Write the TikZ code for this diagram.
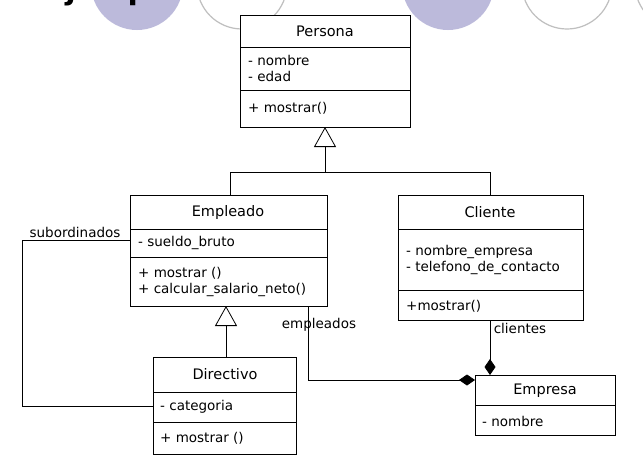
\documentclass[tikz,border=0pt]{standalone}
\usepackage{fontspec}
\setmainfont{DejaVu Sans}
\usetikzlibrary{arrows.meta}
\definecolor{lav}{HTML}{BCBADB}
\begin{document}
\begin{tikzpicture}[x=1pt,y=-1pt,
  box/.style={draw,line width=0.9pt,fill=white},
  txt/.style={font=\fontsize{13.5}{16}\selectfont,anchor=west,inner sep=0pt,align=left},
  ttl/.style={font=\fontsize{14.5}{17}\selectfont,inner sep=0pt},
  lbl/.style={font=\fontsize{13.5}{16}\selectfont,inner sep=0pt},
  ln/.style={line width=0.8pt},
  inh/.style={-{Triangle[open,length=20pt,width=22pt]},line width=0.8pt},
  comp/.style={-{Diamond[length=16pt,width=11pt]},line width=0.8pt},
  deco/.style={fill=lav},
  decoo/.style={draw=black!25,line width=1.2pt,fill=white}]
\useasboundingbox (0,0) rectangle (643,464);
\fill[white] (0,0) rectangle (643,464);
% background decoration
\fill[deco] (137,-16) circle (46);
\draw[decoo] (242,-16) circle (45);
\fill[deco] (448,-16) circle (46);
\draw[decoo] (567,-16) circle (45);
\draw[decoo] (680,-16) circle (45);
\node[font=\bfseries\fontsize{30}{30}\selectfont,anchor=base west,inner sep=0pt] (title) at (45,-1) {Ejemplo};
% Persona
\draw[box] (240,15) rectangle (410,127);
\draw[ln] (240,47)--(410,47) (240,90)--(410,90);
\node[ttl] (persona) at (325,31) {Persona};
\node[txt] (pa) at (248,68) {- nombre\\- edad};
\node[txt] (pm) at (248,108) {+ mostrar()};
\coordinate (pbot) at (325,127);
% Empleado
\draw[box] (130,195) rectangle (327,306);
\draw[ln] (130,229)--(327,229) (130,257)--(327,257);
\node[ttl] (empleado) at (228,212) {Empleado};
\node[txt] (ea) at (138,243) {- sueldo\_bruto};
\node[txt] (em) at (138,282) {+ mostrar ()\\+ calcular\_salario\_neto()};
% Cliente
\draw[box] (398,195) rectangle (583,320);
\draw[ln] (398,229)--(583,229) (398,290)--(583,290);
\node[ttl] (cliente) at (490,212) {Cliente};
\node[txt] (ca) at (406,260) {- nombre\_empresa\\- telefono\_de\_contacto};
\node[txt] (cm) at (406,306) {+mostrar()};
% Directivo
\draw[box] (153,357) rectangle (296,454);
\draw[ln] (153,392)--(296,392) (153,422)--(296,422);
\node[ttl] (directivo) at (225,374) {Directivo};
\node[txt] (da) at (160,407) {- categoria};
\node[txt] (dm) at (160,438) {+ mostrar ()};
% Empresa
\draw[box] (475,375) rectangle (615,435);
\draw[ln] (475,405)--(615,405);
\node[ttl] (empresa) at (545,391) {Empresa};
\node[txt] (ema) at (482,421) {- nombre};
% inheritance
\draw[ln] (230,195)--(230,172)--(490,172)--(490,195);
\draw[inh] (325,172)--(pbot);
\draw[inh] (226,357)--(226,306);
% subordinados
\draw[ln] (130,240)--(22,240)--(22,406)--(153,406);
\node[lbl] (sub) at (75,232) {subordinados};
% empleados
\draw[comp] (308,306)--(308,380)--(475,380);
\node[lbl] (emp) at (319,325) {empleados};
% clientes
\draw[comp] (490,320)--(490,375);
\node[lbl] (cli) at (520,328) {clientes};
\end{tikzpicture}
\end{document}
